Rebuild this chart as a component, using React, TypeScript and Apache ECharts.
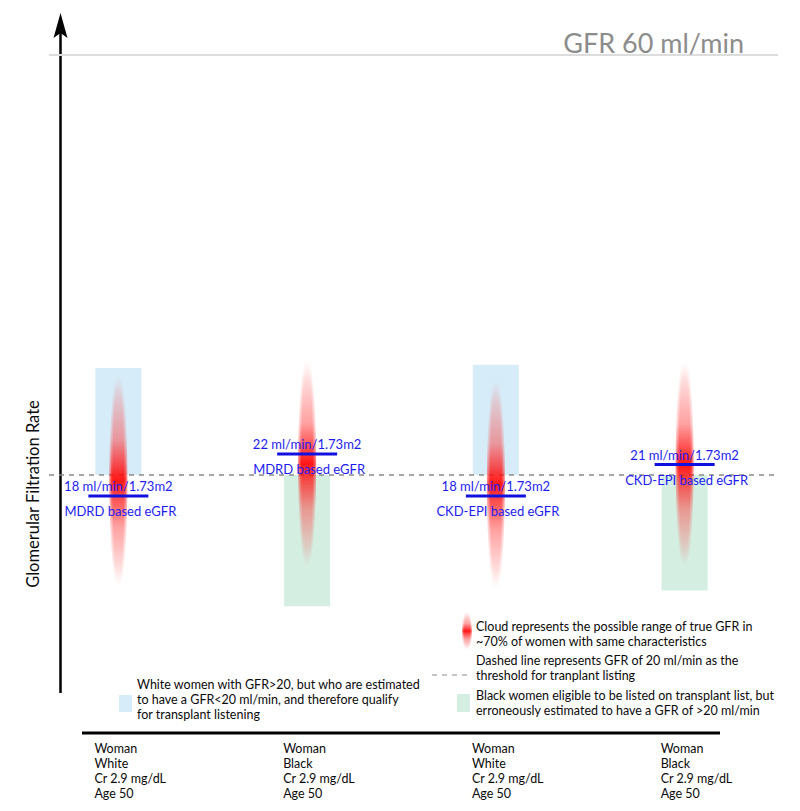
import React, { useEffect, useRef } from "react";
import * as echarts from "echarts";

const FONT = "Lato, 'Open Sans', sans-serif";

// Patient profiles along the horizontal axis
const groupLabels = [
  "Woman\nWhite\nCr 2.9 mg/dL\nAge 50",
  "Woman\nBlack\nCr 2.9 mg/dL\nAge 50",
  "Woman\nWhite\nCr 2.9 mg/dL\nAge 50",
  "Woman\nBlack\nCr 2.9 mg/dL\nAge 50",
];

// Estimated GFR (ml/min/1.73m2) and the equation that produced it
const egfrValues = [18, 22, 18, 21];
const egfrMethods = [
  "MDRD based eGFR",
  "MDRD based eGFR",
  "CKD-EPI based eGFR",
  "CKD-EPI based eGFR",
];

// Range of true GFR covering ~70% of women with the same characteristics
const cloudLow = [9.2, 11.0, 9.0, 11.0];
const cloudHigh = [29.7, 31.1, 29.2, 31.0];

// Misclassification band for each profile
const bandLow = [20, 7.5, 20, 9.0];
const bandHigh = [30.2, 20, 30.5, 20];
const bandKinds = ["white", "black", "white", "black"];

// Horizontal reference levels (GFR ml/min)
const referenceLines = [60, 20];
const referenceLabels = ["GFR 60 ml/min", ""];

const BAND_COLORS: Record<string, string> = {
  white: "#d6ecf8",
  black: "#d4efe2",
};
const EGFR_BLUE = "#1c1cf0";
const BAR_BLUE = "#1010e0";
const SMALL = 12.5;
const LINE_H = 15;

function cloudFill(alpha: number) {
  return new echarts.graphic.LinearGradient(0, 0, 0, 1, [
    { offset: 0, color: "rgba(255,60,60,0)" },
    { offset: 0.1, color: `rgba(255,70,70,${0.14 * alpha})` },
    { offset: 0.3, color: `rgba(255,50,50,${0.34 * alpha})` },
    { offset: 0.42, color: `rgba(255,20,20,${0.68 * alpha})` },
    { offset: 0.5, color: `rgba(255,0,0,${alpha})` },
    { offset: 0.58, color: `rgba(255,20,20,${0.68 * alpha})` },
    { offset: 0.72, color: `rgba(255,50,50,${0.34 * alpha})` },
    { offset: 0.9, color: `rgba(255,70,70,${0.14 * alpha})` },
    { offset: 1, color: "rgba(255,60,60,0)" },
  ]);
}

function cloudShapes(cx: number, cy: number, ry: number, widths: number[]) {
  return widths.map((rx, k) => ({
    type: "ellipse",
    shape: { cx, cy, rx, ry: ry * (1 - k * 0.04) },
    style: { fill: cloudFill(0.55) },
  }));
}

export default function App() {
  const ref = useRef<HTMLDivElement>(null);

  useEffect(() => {
    document.body.style.margin = "0";
    if (!ref.current) return;
    const chart = echarts.init(ref.current, undefined, { renderer: "svg" });

    const textStyle = (size: number, color: string) => ({
      fontSize: size,
      fontFamily: FONT,
      fill: color,
    });

    const option: any = {
      animation: false,
      backgroundColor: "#ffffff",
      grid: { left: 24, right: 21, top: 55, bottom: 126 },
      xAxis: {
        type: "category",
        data: groupLabels,
        offset: 48,
        axisLine: { show: false },
        axisTick: { show: false },
        axisLabel: {
          interval: 0,
          align: "left",
          margin: 8,
          padding: [0, 0, 0, -24],
          fontSize: SMALL,
          lineHeight: LINE_H,
          fontFamily: FONT,
          color: "#0a0a0a",
        },
      },
      yAxis: { type: "value", min: 0, max: 60, show: false },
      series: [
        {
          type: "custom",
          name: "bands",
          z: 1,
          data: bandLow.map((lo, i) => [i, lo, bandHigh[i]]),
          renderItem: (params: any, api: any) => {
            const top = api.coord([api.value(0), api.value(2)]);
            const bot = api.coord([api.value(0), api.value(1)]);
            return {
              type: "rect",
              shape: { x: top[0] - 23, y: top[1], width: 46, height: bot[1] - top[1] },
              style: { fill: BAND_COLORS[bandKinds[params.dataIndex]] },
            };
          },
        },
        {
          type: "custom",
          name: "reference",
          z: 2,
          data: referenceLines.map((v) => [0, v]),
          renderItem: (params: any, api: any) => {
            const y = api.coord([0, api.value(1)])[1];
            const i = params.dataIndex;
            if (i === 0) {
              return {
                type: "group",
                children: [
                  {
                    type: "line",
                    shape: { x1: 49, y1: y, x2: 778, y2: y },
                    style: { stroke: "#dddddd", lineWidth: 2 },
                  },
                  {
                    type: "text",
                    style: {
                      text: referenceLabels[i],
                      x: 744,
                      y: y - 13,
                      align: "right",
                      verticalAlign: "middle",
                      ...textStyle(27, "#8c8c8c"),
                    },
                  },
                ],
              };
            }
            return {
              type: "line",
              shape: { x1: 49, y1: y, x2: 778, y2: y },
              style: { stroke: "#8a8a8a", lineWidth: 1.6, lineDash: [5, 5] },
            };
          },
        },
        {
          type: "custom",
          name: "clouds",
          z: 3,
          data: cloudLow.map((lo, i) => [i, lo, cloudHigh[i]]),
          renderItem: (params: any, api: any) => {
            const top = api.coord([api.value(0), api.value(2)]);
            const bot = api.coord([api.value(0), api.value(1)]);
            const cy = (top[1] + bot[1]) / 2;
            const ry = (bot[1] - top[1]) / 2;
            return {
              type: "group",
              children: cloudShapes(top[0], cy, ry, [9, 7.5, 6]),
            };
          },
        },
        {
          type: "custom",
          name: "eGFR",
          z: 4,
          data: egfrValues.map((v, i) => [i, v]),
          renderItem: (params: any, api: any) => {
            const i = params.dataIndex;
            const v = api.value(1);
            const [cx, y] = api.coord([api.value(0), v]);
            return {
              type: "group",
              children: [
                {
                  type: "line",
                  shape: { x1: cx - 30, y1: y, x2: cx + 30, y2: y },
                  style: { stroke: BAR_BLUE, lineWidth: 3 },
                },
                {
                  type: "text",
                  style: {
                    text: `${v} ml/min/1.73m2`,
                    x: cx,
                    y: y - 10,
                    align: "center",
                    verticalAlign: "middle",
                    ...textStyle(13, EGFR_BLUE),
                  },
                },
                {
                  type: "text",
                  style: {
                    text: egfrMethods[i],
                    x: cx + 2,
                    y: y + 15,
                    align: "center",
                    verticalAlign: "middle",
                    ...textStyle(13, EGFR_BLUE),
                  },
                },
              ],
            };
          },
        },
      ],
      graphic: [
        // vertical axis arrow
        {
          type: "line",
          shape: { x1: 60.5, y1: 693, x2: 60.5, y2: 30 },
          style: { stroke: "#000", lineWidth: 2.5 },
        },
        {
          type: "polygon",
          shape: { points: [[60.5, 13], [67.5, 38], [60.5, 33], [53.5, 38]] },
          style: { fill: "#000" },
        },
        {
          type: "text",
          x: 33,
          y: 494,
          rotation: Math.PI / 2,
          style: {
            text: "Glomerular Filtration Rate",
            align: "center",
            verticalAlign: "middle",
            ...textStyle(16.5, "#0a0a0a"),
          },
        },
        // baseline under the chart
        {
          type: "line",
          shape: { x1: 82, y1: 733, x2: 720, y2: 733 },
          style: { stroke: "#000", lineWidth: 3 },
        },
        // key: white-women band
        {
          type: "rect",
          shape: { x: 119, y: 695, width: 13, height: 17 },
          style: { fill: BAND_COLORS.white },
        },
        {
          type: "text",
          style: {
            text:
              "White women with GFR>20, but who are estimated\nto have a GFR<20 ml/min, and therefore qualify\nfor transplant listening",
            x: 137,
            y: 676.5,
            verticalAlign: "top",
            lineHeight: LINE_H,
            ...textStyle(SMALL, "#0a0a0a"),
          },
        },
        // key: cloud
        {
          type: "group",
          children: cloudShapes(467, 631, 19, [5, 4, 3]),
        },
        {
          type: "text",
          style: {
            text:
              "Cloud represents the possible range of true GFR in\n~70% of women with same characteristics",
            x: 476,
            y: 618.5,
            verticalAlign: "top",
            lineHeight: LINE_H,
            ...textStyle(SMALL, "#0a0a0a"),
          },
        },
        // key: dashed threshold
        {
          type: "line",
          shape: { x1: 432, y1: 675, x2: 471, y2: 675 },
          style: { stroke: "#8a8a8a", lineWidth: 1.2, lineDash: [5, 5] },
        },
        {
          type: "text",
          style: {
            text:
              "Dashed line represents GFR of 20 ml/min as the\nthreshold for tranplant listing",
            x: 476,
            y: 653,
            verticalAlign: "top",
            lineHeight: LINE_H,
            ...textStyle(SMALL, "#0a0a0a"),
          },
        },
        // key: black-women band
        {
          type: "rect",
          shape: { x: 457, y: 694, width: 13, height: 18 },
          style: { fill: BAND_COLORS.black },
        },
        {
          type: "text",
          style: {
            text:
              "Black women eligible to be listed on transplant list, but\nerroneously estimated to have a GFR of >20 ml/min",
            x: 476,
            y: 688,
            verticalAlign: "top",
            lineHeight: LINE_H,
            ...textStyle(SMALL, "#0a0a0a"),
          },
        },
      ],
    };

    chart.setOption(option);
    return () => chart.dispose();
  }, []);

  return <div ref={ref} style={{ width: 800, height: 811 }} />;
}
